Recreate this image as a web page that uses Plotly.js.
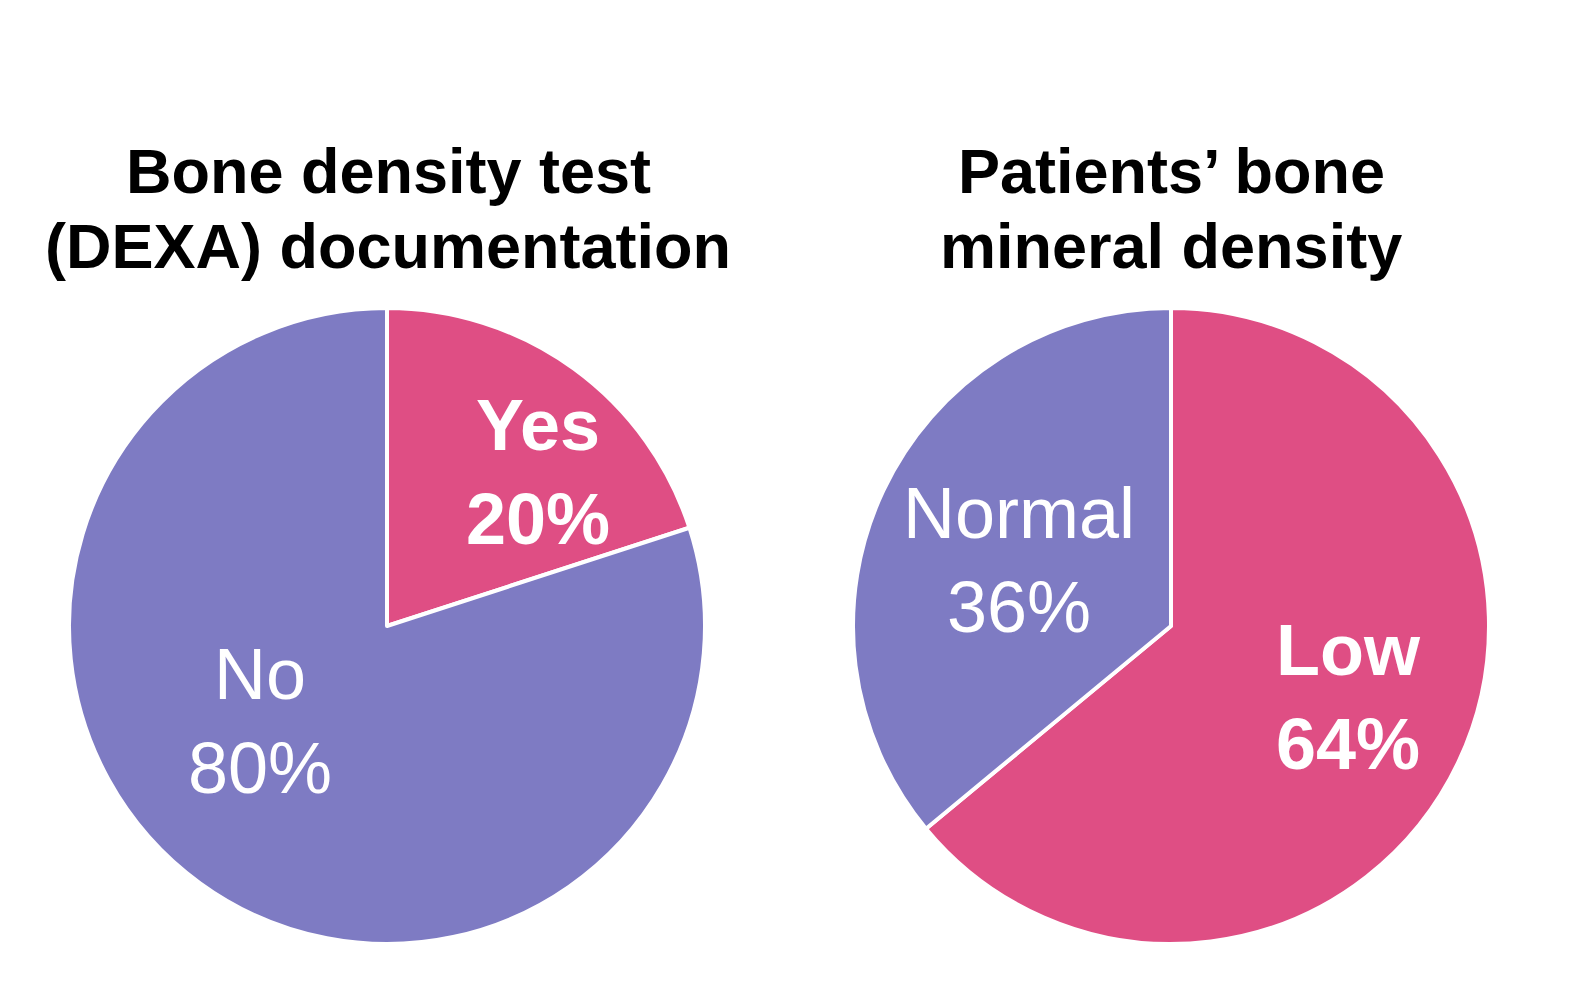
<!DOCTYPE html>
<html>
<head>
<meta charset="utf-8">
<script src="https://cdn.plot.ly/plotly-3.0.1.min.js"></script>
<style>
  html, body { margin: 0; padding: 0; background: #ffffff; }
  #chart { width: 1574px; height: 1006px; }
</style>
</head>
<body>
<div id="chart"></div>
<script>
// Bone density test (DEXA) documentation
const dexaLabels = ['Yes', 'No'];
const dexaValues = [20, 80];

// Patients' bone mineral density
const bmdLabels = ['Low', 'Normal'];
const bmdValues = [64, 36];

const titleLeft = ['Bone density test', '(DEXA) documentation'];
const titleRight = ['Patients\u2019 bone', 'mineral density'];

const PINK = '#DF4E84';
const VIOLET = '#7E7BC3';
const W = 1574, H = 1006;

// pixel -> paper helpers
const px = x => x / W;
const py = y => 1 - y / H;

const pieCommon = {
  type: 'pie',
  sort: false,
  textinfo: 'none',
  hoverinfo: 'none',
  showlegend: false,
  direction: 'clockwise',
  rotation: 0
};

const traces = [
  Object.assign({}, pieCommon, {
    labels: dexaLabels,
    values: dexaValues,
    marker: { colors: [PINK, VIOLET], line: { color: '#ffffff', width: 4 } },
    domain: { x: [px(69), px(705)], y: [py(944), py(308)] }
  }),
  Object.assign({}, pieCommon, {
    labels: bmdLabels,
    values: bmdValues,
    marker: { colors: [PINK, VIOLET], line: { color: '#ffffff', width: 4 } },
    domain: { x: [px(853), px(1489)], y: [py(944), py(308)] }
  })
];

const titleFont = { family: 'Liberation Sans, Arial, sans-serif', size: 63, color: '#000000' };
const annotations = [];

// chart headings, one annotation per line
[[titleLeft, 388], [titleRight, 1171]].forEach(([lines, cx]) => {
  lines.forEach((t, i) => {
    annotations.push({
      xref: 'paper', yref: 'paper',
      x: px(cx), y: py(171 + i * 75),
      xanchor: 'center', yanchor: 'middle',
      text: '<b>' + t + '</b>',
      showarrow: false,
      font: titleFont
    });
  });
});

// slice labels: name and percentage, white on the slice
const labelSpots = [
  { label: dexaLabels[0], value: dexaValues[0], x: 538, y: 472, bold: true },
  { label: dexaLabels[1], value: dexaValues[1], x: 260, y: 721, bold: false },
  { label: bmdLabels[1], value: bmdValues[1], x: 1019, y: 560, bold: false },
  { label: bmdLabels[0], value: bmdValues[0], x: 1348, y: 697, bold: true }
];
labelSpots.forEach(s => {
  let txt = s.label + '<br>' + s.value + '%';
  if (s.bold) txt = '<b>' + s.label + '</b><br><b>' + s.value + '%</b>';
  annotations.push({
    xref: 'paper', yref: 'paper',
    x: px(s.x), y: py(s.y),
    xanchor: 'center', yanchor: 'middle',
    text: txt,
    align: 'center',
    showarrow: false,
    font: { family: 'Liberation Sans, Arial, sans-serif', size: 72, color: '#ffffff' }
  });
});

const layout = {
  width: W,
  height: H,
  margin: { l: 0, r: 0, t: 0, b: 0 },
  paper_bgcolor: '#ffffff',
  plot_bgcolor: '#ffffff',
  showlegend: false,
  hovermode: false,
  annotations: annotations
};

Plotly.newPlot('chart', traces, layout, { displayModeBar: false, staticPlot: true });
</script>
</body>
</html>
